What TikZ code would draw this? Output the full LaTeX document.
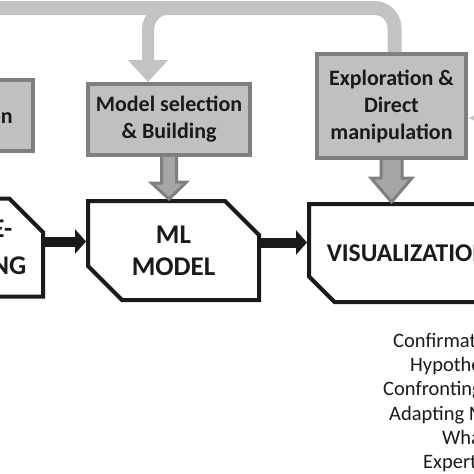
\documentclass[tikz,border=0pt]{standalone}
\usepackage{fontspec}
\setmainfont{Carlito}
\usetikzlibrary{arrows.meta,shapes.misc}
\definecolor{band}{HTML}{C3C3C3}
\definecolor{boxfill}{HTML}{C0C0C0}
\definecolor{boxline}{HTML}{7F7F7F}
\definecolor{arrowfill}{HTML}{A6A6A6}
\definecolor{ink}{HTML}{1A1A1A}
\tikzset{
  task/.style={draw=boxline,fill=boxfill,line width=4pt,minimum height=71pt,
    align=center,text=ink,font=\fontsize{22}{27}\selectfont\bfseries},
  stage/.style={draw=ink,line width=4pt,chamfered rectangle,
    chamfered rectangle xsep=17pt,chamfered rectangle ysep=17pt,
    chamfered rectangle corners={north east,south west},
    minimum height=98pt,inner sep=0pt,align=center,text=ink,
    font=\fontsize{27}{32}\selectfont\bfseries},
  hollow/.style={draw=boxline,fill=arrowfill,line width=3pt,line join=miter},
  push/.style={draw=ink,line width=10pt,-{Triangle[width=24pt,length=11pt]}},
  loopback/.style={draw=band,line width=14pt},
  note/.style={anchor=base west,inner sep=0pt,text=ink,font=\fontsize{20.5}{24}\selectfont}
}
\begin{document}
\begin{tikzpicture}[x=1pt,y=-1pt]
  \path[use as bounding box,clip] (0,0) rectangle (474,474);
  % gray task boxes
  \node[task,minimum width=177pt] (coll) at (-55.5,115.5) {Data collection};
  \node[task,minimum width=162pt] (msel) at (169,119.5) {Model selection\\\& Building};
  \node[task,minimum width=149pt,minimum height=104pt] (expl) at (391.5,106)
    {Exploration \&\\Direct\\manipulation};
  % pipeline stages
  \node[stage,minimum width=172pt,font=\fontsize{27}{37}\selectfont\bfseries] (prep) at (-45,247.5)
    {DATA PRE-\\PROCESSING};
  \node[stage,minimum width=171pt,minimum height=99pt] (ml) at (173.5,250.5) {ML\\MODEL};
  \node[stage,minimum width=198pt,font=\fontsize{25.6}{30}\selectfont\bfseries] (vis) at (408,253)
    {VISUALIZATION};
  \draw[push] ([yshift=6pt]prep.east) -- ([yshift=6pt]prep.east -| ml.west);
  \draw[push] ([yshift=8pt]ml.east) -- ([yshift=8pt]ml.east -| vis.west);
  % feedback loop
  \draw[loopback,rounded corners=20pt] (-10,8) -- ([xshift=3pt]expl.north |- 0,8)
    -- ([xshift=3pt]expl.north);
  \draw[loopback,line width=12pt,rounded corners=22pt,-{Triangle[width=39pt,length=22pt]}]
    (220,8) -- (148,8) -- (msel.north -| 148,0);
  \draw[band,line width=1.5pt,-{Latex[length=6pt,width=5pt]}] (495,118) -- (expl.east |- 0,118);
  % hollow arrows down
  \draw[hollow] ([xshift=-7.5pt]msel.south) -- ++(0,26) -- ++(-10,0)
    -- (msel.south |- ml.north) -- ++(17.5,-17) -- ++(-10,0) -- ([xshift=7.5pt]msel.south);
  \draw[hollow] ([xshift=-10.5pt]expl.south) -- ++(0,18) -- ++(-10,0)
    -- (expl.south |- vis.north) -- ++(20.5,-24) -- ++(-10,0) -- ([xshift=10.5pt]expl.south);
  % tasks under visualization
  \foreach \x/\y/\t [count=\i] in {393/347/Confirmation, 410/371/Hypothesis,
      383/395/Confronting, 389/420/Adapting Models, 442/444/What if, 423/468/Expert}
    \node[note] (task\i) at (\x,\y) {\t};
\end{tikzpicture}
\end{document}
